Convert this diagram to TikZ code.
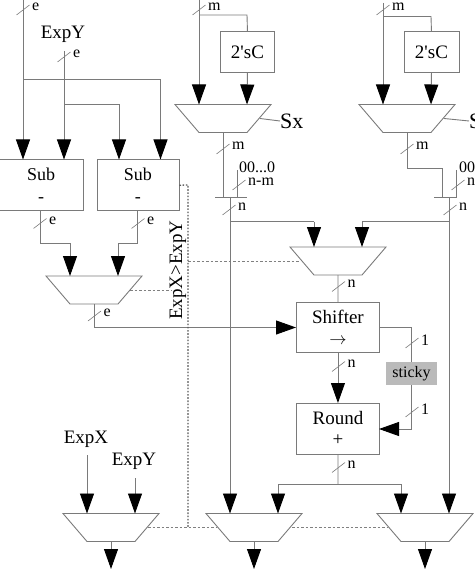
\documentclass[tikz,border=0pt]{standalone}
\usepackage{fontspec}
\setmainfont{Liberation Serif}
\usetikzlibrary{arrows.meta,calc}
\definecolor{wire}{gray}{0.48}
\tikzset{
  x=1pt,y=-1pt,
  wireline/.style={draw=wire,line width=0.9pt},
  flow/.style={wireline,-{Triangle[length=20pt,width=14pt,black,sep=0pt]}},
  plainbox/.style={draw=wire,line width=0.9pt,fill=white,inner sep=0pt,align=center,anchor=north west},
  muxshape/.style={draw=wire,line width=0.9pt,fill=white},
  ticktext/.style={font=\fontsize{16}{18}\selectfont,anchor=west,inner sep=0pt,text=black},
  big/.style={font=\fontsize{19}{23}\selectfont,inner sep=0pt,text=black},
  ctrl/.style={draw=black!65,line width=1.3pt,dash pattern=on 1.6pt off 1.6pt},
  ctrl2/.style={draw=black!50,line width=0.7pt,dash pattern=on 2.5pt off 2pt},
}
\newcommand{\muxat}[3]{%
  \coordinate (#1) at (#2,#3);
  \coordinate (#1-l) at ($(#1)+(-24,-14)$);
  \coordinate (#1-r) at ($(#1)+(24,-14)$);
  \coordinate (#1-o) at ($(#1)+(0,14)$);
  \draw[muxshape] ($(#1)+(-48,-14)$) -- ($(#1)+(48,-14)$) -- ($(#1)+(24,14)$) -- ($(#1)+(-24,14)$) -- cycle;
}
\newcommand{\wtick}[4]{% name, x, y, label
  \draw[wireline,line width=0.6pt] (#2-6.5,#3+5) -- (#2+6.5,#3-5);
  \node[ticktext] (#1) at (#2+9,#3-3) {#4};
}
\begin{document}
\begin{tikzpicture}
\useasboundingbox (0,0) rectangle (474,569);
\clip (0,0) rectangle (474,569);

% control (under the muxes)
\draw[ctrl2] (188,261) -- (299,261);
\draw[ctrl2] (130,290) -- (172,290);
\draw[ctrl2] (148,527) -- (216,527);
\draw[ctrl2] (292,527) -- (387,527);

% muxes
\muxat{mA}{223}{118.5}
\muxat{mB}{407}{118.5}
\muxat{mC}{94}{290}
\muxat{mD}{338}{261}
\muxat{mE}{111}{527.5}
\muxat{mF}{254}{527.5}
\muxat{mG}{425}{527.5}

% boxes
\node[plainbox,minimum width=83.5pt,minimum height=50.5pt,font=\fontsize{18}{22}\selectfont] (subA) at (-1,159.5) {Sub\\-};
\node[plainbox,minimum width=82pt,minimum height=50.5pt,font=\fontsize{18}{22}\selectfont] (subB) at (96.5,159.5) {Sub\\-};
\node[plainbox,minimum width=54pt,minimum height=41pt,font=\fontsize{19}{23}\selectfont] (twoA) at (220,31) {2\textquotesingle sC};
\node[plainbox,minimum width=55pt,minimum height=41pt,font=\fontsize{19}{23}\selectfont] (twoB) at (403.5,31) {2\textquotesingle sC};
\node[plainbox,minimum width=83pt,minimum height=50pt,font=\fontsize{19}{22}\selectfont] (shifter) at (296,302) {Shifter\\[-1pt]$\rightarrow$};
\node[plainbox,minimum width=83pt,minimum height=50.5pt,font=\fontsize{19}{21}\selectfont] (round) at (296,403) {Round\\+};
\node[draw=none,fill=black!27,inner sep=0pt,minimum width=51pt,minimum height=23pt,font=\fontsize{16}{18}\selectfont] (sticky) at (411.5,373.5) {sticky};

% labels
\node[big] (lExpYa) at (63,34) {ExpY};
\node[big] (lExpXb) at (86,439) {ExpX};
\node[big] (lExpYb) at (134,461) {ExpY};
\node[big,rotate=90] (lCmp) at (178,270) {ExpX>ExpY};
\node[font=\fontsize{22}{24}\selectfont,anchor=west,inner sep=0pt] (lSxA) at (280,121) {Sx};
\node[font=\fontsize{22}{24}\selectfont,anchor=west,inner sep=0pt] (lSxB) at (469,121) {Sx};
\node[ticktext] (zA) at (239,167) {00...0};
\node[ticktext] (zB) at (459,167) {00...0};

% free ends and junctions
\coordinate (inX) at (23,0);
\coordinate (inY) at (64,51);
\coordinate (inMA) at (199,0);
\coordinate (inMB) at (383,3);
\coordinate (jX) at (23,79.5);
\coordinate (jY) at (64,104.5);
\coordinate (barAl) at (215,197);
\coordinate (barAr) at (247,197);
\coordinate (barBl) at (434,197);
\coordinate (barBr) at (457,197);
\coordinate (trunkA) at (230,197);
\coordinate (trunkB) at (449,197);

% exponent inputs
\draw[flow] (inX) -- (23,159.5);
\draw[flow] (inY) -- (64,159.5);
\draw[wireline] (jX) -- (160.5,79.5);
\draw[flow] (160.5,79.5) -- (160.5,159.5);
\draw[wireline] (jY) -- (119,104.5);
\draw[flow] (119,104.5) -- (119,159.5);

% sub to mux
\draw[flow] (40.75,210) -- (40.75,243.5) -- (70,243.5) -- (mC-l);
\draw[flow] (137.5,210) -- (137.5,243.5) -- (118,243.5) -- (mC-r);
\draw[flow] (mC-o) -- (94,327.5) -- (296,327.5);

% mantissa A
\draw[flow] (inMA) -- (mA-l);
\draw[wireline] (199,15) -- (247,15) -- (twoA.north);
\draw[flow] (twoA.south) -- (mA-r);
\draw[wireline] (mA-o) -- (223,197);
\draw[wireline] (237,170) -- (237,197);
\draw[wireline] (barAl) -- (barAr);
\draw[flow] (trunkA) -- (230,513.5);
\draw[wireline] (230,221.5) -- (314,221.5);
\draw[flow] (314,221.5) -- (mD-l);
\draw[wireline] (260,118.5) -- (lSxA.west);

% mantissa B
\draw[flow] (inMB) -- (mB-l);
\draw[wireline] (383,16.5) -- (431,16.5) -- (twoB.north);
\draw[flow] (twoB.south) -- (mB-r);
\draw[wireline] (mB-o) -- (407,168.7) -- (442,168.7) -- (442,197);
\draw[wireline] (456,170) -- (456,197);
\draw[wireline] (barBl) -- (barBr);
\draw[flow] (trunkB) -- (mG-r);
\draw[wireline] (449,221.5) -- (362,221.5);
\draw[flow] (362,221.5) -- (mD-r);
\draw[wireline] (444,118.5) -- (lSxB.west);

% datapath
\draw[wireline] (mD-o) -- (shifter.north);
\draw[flow] (shifter.south) -- (round.north);
\draw[wireline] (379,327.5) -- (411.5,327.5) -- (sticky.north);
\draw[flow] (sticky.south) -- (411.5,429) -- (379,429);
\draw[wireline] (round.south) -- (338,484);
\draw[wireline] (mF-r |- 338,484) -- (mG-l |- 338,484);
\draw[flow] (mF-r |- 338,484) -- (mF-r);
\draw[flow] (mG-l |- 338,484) -- (mG-l);

% bottom muxes
\draw[flow] (87,455) -- (mE-l);
\draw[flow] (135,478) -- (mE-r);
\draw[flow] (mE-o) -- (111,569);
\draw[flow] (mF-o) -- (254,569);
\draw[flow] (mG-o) -- (425,569);

% control
\draw[ctrl] (subB.east) -- (188,185) -- (188,527);

% bus width ticks
\wtick{t1}{23}{10}{e}
\wtick{t2}{64}{57}{e}
\wtick{t3}{40}{223.5}{e}
\wtick{t4}{138}{223.5}{e}
\wtick{t5}{94.5}{316}{e}
\wtick{t6}{199}{10}{m}
\wtick{t7}{383}{10}{m}
\wtick{t8}{223}{149}{m}
\wtick{t9}{407}{149}{m}
\wtick{t10}{239}{185}{n-m}
\wtick{t11}{458}{185}{n-m}
\wtick{t12}{229}{210}{n}
\wtick{t13}{450}{210}{n}
\wtick{t14}{338.5}{286.5}{n}
\wtick{t15}{338.5}{366.5}{n}
\wtick{t16}{338.5}{467.5}{n}
\wtick{t17}{412}{343}{1}
\wtick{t18}{412}{412}{1}
\end{tikzpicture}
\end{document}
